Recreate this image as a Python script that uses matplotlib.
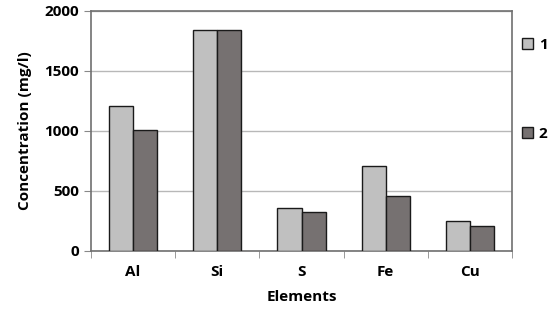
import numpy as np
import matplotlib.pyplot as plt
from matplotlib.patches import Patch
from matplotlib.ticker import FixedLocator, NullFormatter

plt.rcParams['font.family'] = ['Open Sans', 'DejaVu Sans']

elements = ['Al', 'Si', 'S', 'Fe', 'Cu']
series_1 = [1205, 1840, 360, 712, 248]
series_2 = [1008, 1840, 323, 460, 207]
series_names = ['1', '2']

fig = plt.figure(figsize=(5.5, 3.1), dpi=100)
ax = fig.add_axes([91 / 550, 59 / 310, 421 / 550, 240 / 310])

x = np.arange(len(elements))
w = 0.286
ax.bar(x - w / 2, series_1, w, color='#c0c0c0', edgecolor='#1a1a1a', linewidth=1, zorder=3)
ax.bar(x + w / 2, series_2, w, color='#767171', edgecolor='#1a1a1a', linewidth=1, zorder=3)

ax.set_xlim(-0.5, len(elements) - 0.5)
ax.set_ylim(0, 2000)
ax.set_yticks([0, 500, 1000, 1500, 2000])
ax.yaxis.grid(True, color='#b8b8b8', linewidth=1, zorder=0)

# category labels centred, tick marks on the boundaries
ax.set_xticks(x)
ax.set_xticklabels(elements, fontsize=11, fontweight='bold')
ax.tick_params(axis='x', which='major', length=0, pad=10)
ax.xaxis.set_minor_locator(FixedLocator(np.arange(-0.5, len(elements), 1.0)))
ax.xaxis.set_minor_formatter(NullFormatter())
ax.tick_params(axis='x', which='minor', length=5, color='#888888')
ax.tick_params(axis='y', length=5, color='#888888', labelsize=11)
for lab in ax.get_yticklabels():
    lab.set_fontweight('bold')

for s in ax.spines.values():
    s.set_color('#707070')
    s.set_linewidth(1.2)

ax.set_ylabel('Concentration (mg/l)', fontsize=11, fontweight='bold', labelpad=9)
ax.set_xlabel('Elements', fontsize=11, fontweight='bold', labelpad=8)

handles = [Patch(facecolor='#c0c0c0', edgecolor='#1a1a1a'),
           Patch(facecolor='#767171', edgecolor='#1a1a1a')]
leg = fig.legend(handles, series_names, loc='upper left', bbox_to_anchor=(522 / 550, 1 - 38 / 310),
                 frameon=False, borderpad=0, borderaxespad=0, labelspacing=4.9,
                 handlelength=0.75, handleheight=0.75, handletextpad=0.35,
                 prop={'weight': 'bold', 'size': 11})

fig.savefig('out.png', dpi=100)
